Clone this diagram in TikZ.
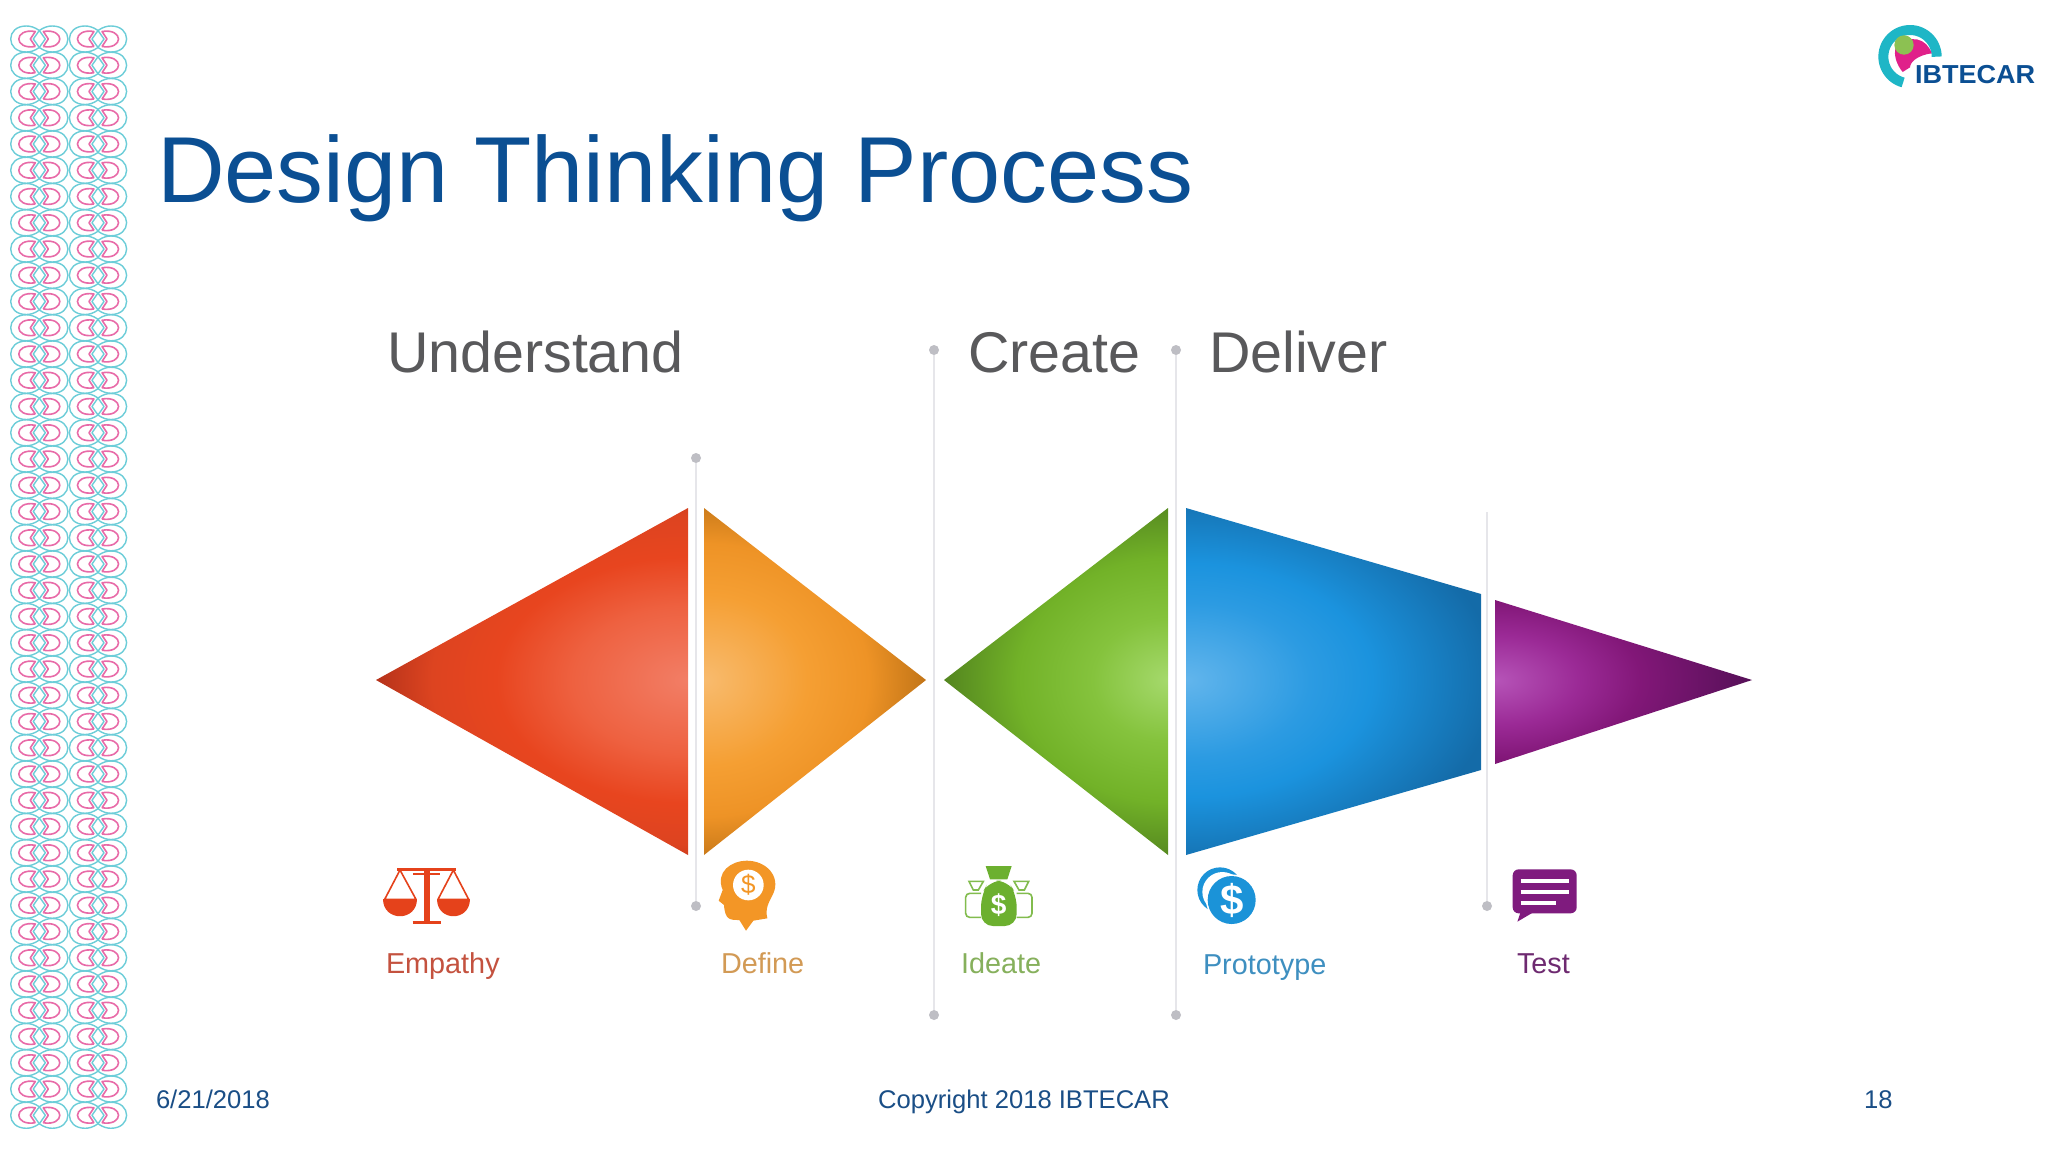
\documentclass[tikz,border=0pt]{standalone}
\usepackage{fontspec}
\setmainfont{Liberation Sans}
\definecolor{titleblue}{HTML}{0B4F93}
\definecolor{headgrey}{HTML}{59595B}
\definecolor{footblue}{HTML}{1A4E86}
\definecolor{tealring}{HTML}{6CCDD8}
\definecolor{pinkl}{HTML}{E86BA8}
\definecolor{ledger}{HTML}{E6E6EA}
\definecolor{dotgrey}{HTML}{BEBEC4}
\definecolor{iconred}{HTML}{E5421B}
\definecolor{iconorange}{HTML}{F39626}
\definecolor{icongreen}{HTML}{6CB02F}
\definecolor{iconblue}{HTML}{1B93D8}
\definecolor{iconpurple}{HTML}{7F1B7E}
\definecolor{logoteal}{HTML}{1EB6C6}
\definecolor{logopink}{HTML}{E0218A}
\definecolor{logogreen}{HTML}{8CC152}
\definecolor{lblred}{HTML}{C4523F}
\definecolor{lblorange}{HTML}{D29A55}
\definecolor{lblgreen}{HTML}{86B05C}
\definecolor{lblblue}{HTML}{3E8FC0}
\definecolor{lblpurple}{HTML}{6E2A70}
\definecolor{ra}{HTML}{F27E66}\definecolor{rb}{HTML}{EE6140}\definecolor{rc}{HTML}{E8451F}\definecolor{rd}{HTML}{DD4420}\definecolor{re}{HTML}{B0301A}
\definecolor{oa}{HTML}{F8BB6E}\definecolor{ob}{HTML}{F59F33}\definecolor{oc}{HTML}{EE9326}\definecolor{oe}{HTML}{B86E14}
\definecolor{ga}{HTML}{A5D96C}\definecolor{gb}{HTML}{85C33D}\definecolor{gc}{HTML}{72B228}\definecolor{ge}{HTML}{4F7F1E}
\definecolor{ba}{HTML}{62B5EC}\definecolor{bb}{HTML}{2C9BE2}\definecolor{bc}{HTML}{1B93DE}\definecolor{be}{HTML}{146BA8}
\definecolor{pa}{HTML}{B654B8}\definecolor{pb}{HTML}{9B2A96}\definecolor{pc}{HTML}{821778}\definecolor{pe}{HTML}{551057}
\pgfdeclareradialshading{redrad}{\pgfpoint{0bp}{0bp}}{color(0bp)=(ra);color(4.5bp)=(rb);color(7.5bp)=(rc);color(10bp)=(rd);color(12.5bp)=(re);color(50bp)=(re)}
\pgfdeclareradialshading{orangerad}{\pgfpoint{0bp}{0bp}}{color(0bp)=(oa);color(5.5bp)=(ob);color(8.75bp)=(oc);color(12.5bp)=(oe);color(50bp)=(oe)}
\pgfdeclareradialshading{greenrad}{\pgfpoint{0bp}{0bp}}{color(0bp)=(ga);color(4bp)=(gb);color(8bp)=(gc);color(12.5bp)=(ge);color(50bp)=(ge)}
\pgfdeclareradialshading{bluerad}{\pgfpoint{0bp}{0bp}}{color(0bp)=(ba);color(5bp)=(bb);color(7.5bp)=(bc);color(12.5bp)=(be);color(50bp)=(be)}
\pgfdeclareradialshading{purplerad}{\pgfpoint{0bp}{0bp}}{color(0bp)=(pa);color(4bp)=(pb);color(7bp)=(pc);color(12.5bp)=(pe);color(50bp)=(pe)}
\tikzset{
  pagetext/.style={inner sep=0pt,outer sep=0pt,anchor=base west},
  headtext/.style={pagetext,text=headgrey,font=\fontsize{28.7}{32}\selectfont},
  lbltext/.style={pagetext,font=\fontsize{14.4}{16}\selectfont},
  foottext/.style={pagetext,text=footblue,font=\fontsize{12.8}{15}\selectfont},
  vline/.style={draw=ledger,line width=.65pt},
  enddot/.style={circle,fill=dotgrey,inner sep=0pt,minimum size=5pt},
  zoomed/.style={x=0.16667pt,y=-0.16667pt},
  teal ring/.style={draw=tealring,line width=.7pt,line join=round},
  pink ring/.style={draw=pinkl,line width=.8pt,line join=round},
}
\newcommand{\bigshape}[6]{% shading, cx, cy, rx, ry, polygon
  \begin{scope}\clip #6 -- cycle;\shade[shading=#1] (#2,#3) ellipse ({2*#4} and {2*#5});\end{scope}}
\begin{document}
\begin{tikzpicture}[x=0.5pt,y=-0.5pt]
\useasboundingbox (0,0) rectangle (2048,1152);
\fill[white] (0,0) rectangle (2048,1152);
% border pattern
\foreach \r in {0,...,41}{
  \foreach \cx in {39.3,98}{
    \begin{scope}[shift={(\cx,39+26.25*\r)}]
      \draw[teal ring] (6,0) -- (0,-8.5) .. controls (-5,-12) and (-9,-13) .. (-13,-13) .. controls (-23,-13) and (-28.6,-7) .. (-28.6,0) .. controls (-28.6,7) and (-23,13) .. (-13,13) .. controls (-9,13) and (-5,12) .. (0,8.5) -- cycle;
      \draw[teal ring] (-6,0) -- (0,-8.5) .. controls (5,-12) and (9,-13) .. (13,-13) .. controls (23,-13) and (28.6,-7) .. (28.6,0) .. controls (28.6,7) and (23,13) .. (13,13) .. controls (9,13) and (5,12) .. (0,8.5) -- cycle;
      \draw[pink ring] (-4,7.5) -- (-9,0) -- (-4,-7.5) .. controls (-26,-11) and (-26,11) .. (-4,7.5);
      \draw[pink ring] (4,7.5) -- (9,0) -- (4,-7.5) .. controls (26,-11) and (26,11) .. (4,7.5);
    \end{scope}
  }
}
% logo
\begin{scope}[shift={(1860,10)},zoomed]
  \draw[draw=logoteal,line width=5pt] plot[domain=0:255,samples=50] ({150+80*cos(\x)},{140-80*sin(\x)});
  \fill[logopink] (107,112) .. controls (150,70) and (200,85) .. (215,130) .. controls (175,135) and (150,155) .. (150,172) -- (128,186) .. controls (110,165) and (100,135) .. (107,112) -- cycle;
  \fill[logogreen] (132,105) circle (29);
\end{scope}
\node[pagetext,text=titleblue,font=\bfseries\fontsize{13}{14}\selectfont,xscale=1.04] (logotext) at (1915,83) {IBTECAR};
% title
\node[pagetext,text=titleblue,font=\fontsize{46.85}{50}\selectfont] (title) at (157,202) {Design Thinking Process};
% headings
\node[headtext] (understand) at (387,372.5) {Understand};
\node[headtext] (create) at (968,372.5) {Create};
\node[headtext] (deliver) at (1209,372.5) {Deliver};
% shapes
\bigshape{redrad}{688}{680}{320}{205}{(376,680) -- (688,508) -- (688,855)}
\bigshape{orangerad}{704}{680}{235}{195}{(704,508) -- (926,680) -- (704,855)}
\bigshape{greenrad}{1168}{680}{235}{190}{(944,680) -- (1168,508) -- (1168,855)}
\bigshape{bluerad}{1186}{680}{310}{195}{(1186,508) -- (1481,594) -- (1481,770) -- (1186,855)}
\bigshape{purplerad}{1495}{680}{260}{140}{(1495,600) -- (1752,680) -- (1495,764)}
% divider lines
\node[enddot] (d1a) at (696,458) {};
\node[enddot] (d1b) at (696,906) {};
\node[enddot] (d2a) at (934,350) {};
\node[enddot] (d2b) at (934,1015) {};
\node[enddot] (d3a) at (1176,350) {};
\node[enddot] (d3b) at (1176,1015) {};
\coordinate (d4a) at (1487,512);
\node[enddot] (d4b) at (1487,906) {};
\draw[vline] (d1a) -- (d1b);
\draw[vline] (d2a) -- (d2b);
\draw[vline] (d3a) -- (d3b);
\draw[vline] (d4a) -- (d4b);
% scales icon
\begin{scope}[shift={(360,840)},zoomed]
  \draw[iconred,line width=1.3pt] (112,88) -- (288,88) (160,102) -- (240,102) (158,248) -- (242,248);
  \fill[iconred] (191,88) -- (209,88) -- (209,245) -- (191,245) -- cycle;
  \draw[iconred,line width=.8pt,line join=round] (120,90) -- (74,178) -- (168,178) -- cycle;
  \draw[iconred,line width=.8pt,line join=round] (280,90) -- (234,178) -- (326,178) -- cycle;
  \fill[iconred] (70,178) .. controls (70,245) and (172,245) .. (172,178) -- cycle;
  \fill[iconred] (230,178) .. controls (230,245) and (330,245) .. (330,178) -- cycle;
\end{scope}
% head icon
\begin{scope}[shift={(360,840)},zoomed]
  \fill[iconorange] (1158,272) -- (1138,240) .. controls (1110,240) and (1095,240) .. (1092,195) -- (1076,182) -- (1088,150) .. controls (1065,95) and (1115,62) .. (1160,62) .. controls (1220,62) and (1262,110) .. (1240,160) .. controls (1225,190) and (1215,205) .. (1222,235) -- (1180,242) -- cycle;
  \fill[white] (1165,135) circle (46);
  \node[inner sep=0pt,text=iconorange,font=\fontsize{13}{14}\selectfont] (headdollar) at (1165,135) {\$};
\end{scope}
% bags icon
\begin{scope}[shift={(920,840)},zoomed]
  \draw[icongreen!85!white,line width=.8pt,rounded corners=2pt] (183,160) -- (137,160) -- (137,232) -- (183,232);
  \draw[icongreen!85!white,line width=.8pt,rounded corners=2pt] (290,160) -- (336,160) -- (336,232) -- (290,232);
  \draw[icongreen!85!white,line width=.8pt] (147,124) -- (190,124) -- (175,150) -- (160,150) -- cycle;
  \draw[icongreen!85!white,line width=.8pt] (282,124) -- (326,124) -- (313,150) -- (297,150) -- cycle;
  \fill[icongreen] (197,78) -- (275,78) -- (262,118) -- (210,118) -- cycle;
  \fill[icongreen,rounded corners=6pt] (208,122) -- (264,122) -- (290,165) -- (290,258) -- (183,258) -- (183,165) -- cycle;
  \node[inner sep=0pt,text=white,font=\bfseries\fontsize{14}{15}\selectfont] (bagdollar) at (236,195) {\$};
\end{scope}
% coin icon
\begin{scope}[shift={(920,840)},zoomed]
  \fill[iconblue] (900,150) circle (68);
  \fill[white] (907,156) circle (60);
  \fill[white] (935,180) circle (77);
  \fill[iconblue] (935,180) circle (72);
  \node[inner sep=0pt,text=white,font=\bfseries\fontsize{21}{22}\selectfont] (coindollar) at (935,182) {\$};
\end{scope}
% speech icon
\begin{scope}[shift={(1460,840)},zoomed]
  \fill[iconpurple,rounded corners=3pt] (158,88) -- (350,88) -- (350,220) -- (158,220) -- cycle;
  \fill[iconpurple] (182,215) -- (172,245) -- (218,218) -- cycle;
  \draw[white,line width=2pt] (182,124) -- (328,124) (182,156) -- (328,156) (182,188) -- (288,188);
\end{scope}
% labels
\node[lbltext,text=lblred] (empathy) at (386,973) {Empathy};
\node[lbltext,text=lblorange] (define) at (721,973) {Define};
\node[lbltext,text=lblgreen] (ideate) at (961,973) {Ideate};
\node[lbltext,text=lblblue] (prototype) at (1203,974) {Prototype};
\node[lbltext,text=lblpurple] (test) at (1517,973) {Test};
% footer
\node[foottext] (date) at (156,1108) {6/21/2018};
\node[foottext,anchor=base] (copyright) at (1024,1108) {Copyright 2018 IBTECAR};
\node[foottext] (pageno) at (1864,1108) {18};
\end{tikzpicture}
\end{document}
